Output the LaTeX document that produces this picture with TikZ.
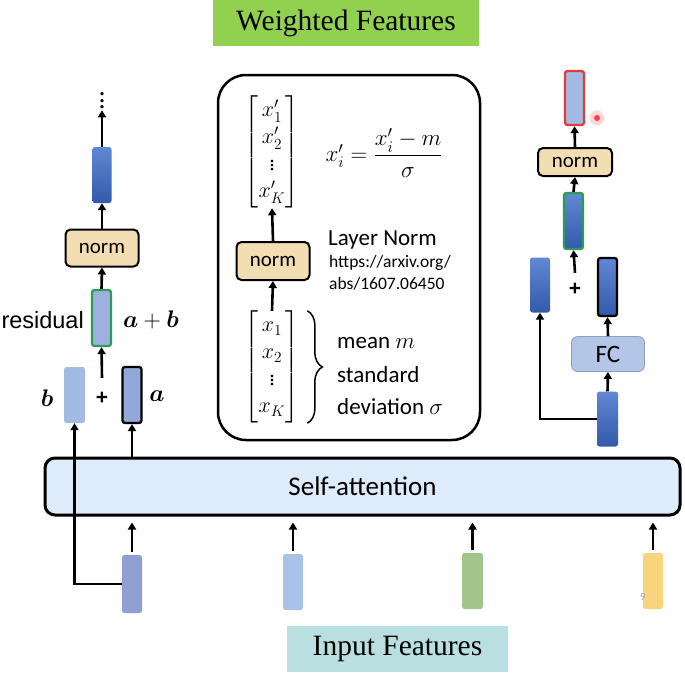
\RequirePackage{fix-cm}
\documentclass[tikz,border=0pt]{standalone}
\usepackage{amsmath}
\usepackage{fontspec}
\setmainfont{Liberation Serif}
\setsansfont{Carlito}
\newfontfamily\arialfont{Liberation Sans}
\usepackage{tikz}
\usetikzlibrary{arrows.meta,decorations.pathreplacing}

\definecolor{barblue}{HTML}{3A6AC8}
\definecolor{barlight}{HTML}{A3BBE2}
\definecolor{barmid}{HTML}{93A8D8}
\definecolor{normtan}{HTML}{F3DEB4}
\definecolor{sablue}{HTML}{DDEBFA}
\definecolor{fcblue}{HTML}{B3C6E8}
\definecolor{resgreen}{HTML}{2E9A5A}
\definecolor{outred}{HTML}{E23B3B}
\definecolor{inpa}{HTML}{8EA0D2}
\definecolor{inpb}{HTML}{A8C3E6}
\definecolor{inpc}{HTML}{A3C58B}
\definecolor{inpd}{HTML}{F9D47E}
\definecolor{wfgreen}{HTML}{92D050}
\definecolor{infteal}{HTML}{B9DFE1}

\newcommand{\vdotsbig}{\vbox{\baselineskip6.5pt\lineskiplimit0pt\hbox{.}\hbox{.}\hbox{.}}}

\begin{document}
\begin{tikzpicture}[x=1pt,y=-1pt,
	bar/.style={rounded corners=2.5pt,minimum width=20pt,minimum height=56pt,inner sep=0pt},
	dark/.style={bar,top color=barblue!80!white,bottom color=barblue!85!black},
	framedbar/.style={bar,draw=#1,line width=2.3pt},
	normbox/.style={draw,line width=2pt,rounded corners=5pt,fill=normtan,minimum width=73pt,minimum height=37pt,inner sep=0pt,font=\sffamily\fontsize{21}{24}\selectfont},
	title/.style={minimum height=46pt,inner sep=0pt,font=\fontsize{29.5}{32}\selectfont},
	sans/.style={inner sep=0pt,font=\sffamily\fontsize{23}{26}\selectfont},
	plus/.style={inner sep=0pt,font=\arialfont\bfseries\fontsize{21}{24}\selectfont},
	mathnode/.style={inner sep=0pt,font=\fontsize{22}{27}\selectfont},
	arr/.style={-{Triangle[length=7pt,width=8pt]},line width=2.6pt}]
		\useasboundingbox (0,0) rectangle (685,673);

		% titles and attention layer
		\path (346,23) node[title,fill=wfgreen,minimum width=266pt] (wf) {Weighted Features}
		(397.5,648.5) node[title,fill=infteal,minimum width=221pt] (inf) {Input Features}
		(362.5,486.5) node[draw,line width=3pt,rounded corners=10pt,fill=sablue,minimum width=635pt,minimum height=57pt,font=\sffamily\fontsize{27}{30}\selectfont] (sa) {Self-attention};

		% inputs
		\path (132,584) node[bar,fill=inpa,minimum height=58pt] (in1) {}
		(293,582) node[bar,fill=inpb] (in2) {}
		(472.5,581) node[bar,fill=inpc,minimum width=21pt] (in3) {}
		(653,581) node[bar,fill=inpd] (in4) {}
		(643,597) node[text=gray!70,font=\sffamily\fontsize{11}{12}\selectfont] (pgnum) {9};

		% left column
		\path (102,101) node[inner sep=1pt,font=\bfseries\fontsize{20}{22}\selectfont] (ldots) {\vdotsbig}
		(102,175) node[dark,minimum width=19pt] (lout) {}
		(102,248) node[normbox] (lnorm) {norm}
		(101.5,318) node[framedbar=resgreen,fill=barmid!90!white,minimum width=19pt] (lres) {}
		(102,398) node[plus,minimum height=40pt] (lplus) {+}
		(74.5,395) node[bar,fill=barlight,minimum width=21pt] (lb) {}
		(132,395) node[framedbar=black,fill=barmid,minimum width=19pt] (la) {}
		(84,320) node[inner sep=0pt,anchor=east,font=\arialfont\fontsize{23.5}{26}\selectfont] (lresl) {residual}
		(123,320) node[mathnode,anchor=west,font=\fontsize{24}{26}\selectfont] (lsum) {$\boldsymbol{a}+\boldsymbol{b}$}
		(47,398) node[mathnode,font=\fontsize{24}{26}\selectfont] (lbl) {$\boldsymbol{b}$}
		(157,396) node[mathnode,font=\fontsize{24}{26}\selectfont] (lal) {$\boldsymbol{a}$};

		\draw[arr] (lout.north) -- (ldots.south);
		\draw[arr] (lnorm.north) -- (lout.south);
		\draw[arr] (lres.north) -- (lnorm.south);
		\draw[arr] (lplus.north) -- (lres.south);
		\draw[arr] (sa.north -| la.south) -- (la.south);

		% layer norm box
		\path (349,257.5) node[draw,line width=2.5pt,rounded corners=28pt,minimum width=262pt,minimum height=365pt] (lnbox) {}
		(272,152) node[mathnode] (xpm) {$\begin{bmatrix}x'_1\\x'_2\\\vdots\\x'_K\end{bmatrix}$}
		(273,261) node[normbox,minimum height=38pt] (cnorm) {norm}
		(272,367) node[mathnode] (xm) {$\begin{bmatrix}x_1\\x_2\\\vdots\\x_K\end{bmatrix}$}
		(384,153) node[mathnode,font=\fontsize{23}{27}\selectfont] (eq) {$x'_i=\dfrac{x'_i-m}{\sigma}$}
		(328,240) node[sans,anchor=west] (lnt) {Layer Norm}
		(329,263) node[sans,anchor=west,font=\sffamily\fontsize{17.5}{20}\selectfont] (url1) {https://arxiv.org/}
		(329,284) node[sans,anchor=west,font=\sffamily\fontsize{17.5}{20}\selectfont] (url2) {abs/1607.06450}
		(337,343) node[sans,anchor=west] (mean) {mean $m$}
		(337,375) node[sans,anchor=west] (std) {standard}
		(337,407) node[sans,anchor=west] (dev) {deviation $\sigma$};

		\draw[arr] (xm.north) -- (cnorm.south);
		\draw[arr] (cnorm.north) -- (xpm.south);
		\draw[line width=1.5pt,decorate,decoration={brace,amplitude=15pt}] ([xshift=8pt]xm.north east) -- ([xshift=8pt]xm.south east);

		% right column
		\path (574.5,98) node[framedbar=outred,fill=barlight,minimum width=19pt,minimum height=54pt] (rout) {}
		(597,118) node[circle,fill=red!15,minimum size=15pt,inner sep=0pt] (dot) {}
		(597,118) node[circle,fill=red!75,minimum size=6pt,inner sep=0pt] (dotc) {}
		(575,162) node[normbox,minimum width=74pt,minimum height=28pt] (rnorm) {norm}
		(573.5,221) node[framedbar=resgreen,dark,draw=resgreen,minimum width=19pt] (rres) {}
		(575,289) node[plus,minimum height=32pt] (rplus) {+}
		(540,285) node[dark,minimum height=55pt] (rskip) {}
		(607.5,287) node[framedbar=black,dark,draw=black,minimum width=19pt,minimum height=58pt] (rfco) {}
		(608,354) node[draw=fcblue!80!black,line width=0.8pt,fill=fcblue,rounded corners=6pt,minimum width=73pt,minimum height=35pt,font=\sffamily\fontsize{25}{28}\selectfont] (fc) {FC}
		(607.5,419) node[dark,minimum width=21pt,minimum height=55pt] (rin) {};

		\draw[arr] (rnorm.north) -- (rout.south);
		\draw[arr] (rres.north) -- (rnorm.south);
		\draw[arr] (rplus.north) -- (rres.south);
		\draw[arr] (fc.north) -- (rfco.south);
		\draw[arr] (rin.north) -- (fc.south);
		\draw[arr] (rin.west) -| (rskip.south);

		% input arrows
		\draw[arr,shorten <=3pt,shorten >=6pt] (in1.north) -- (in1.north |- sa.south);
		\draw[arr,shorten <=3pt,shorten >=6pt] (in2.north) -- (in2.north |- sa.south);
		\draw[arr,shorten <=3pt,shorten >=6pt] (in3.north) -- (in3.north |- sa.south);
		\draw[arr,shorten <=3pt,shorten >=6pt] (in4.north) -- (in4.north |- sa.south);
		\draw[arr] (in1.west) -| (lb.south);
	\end{tikzpicture}
\end{document}
